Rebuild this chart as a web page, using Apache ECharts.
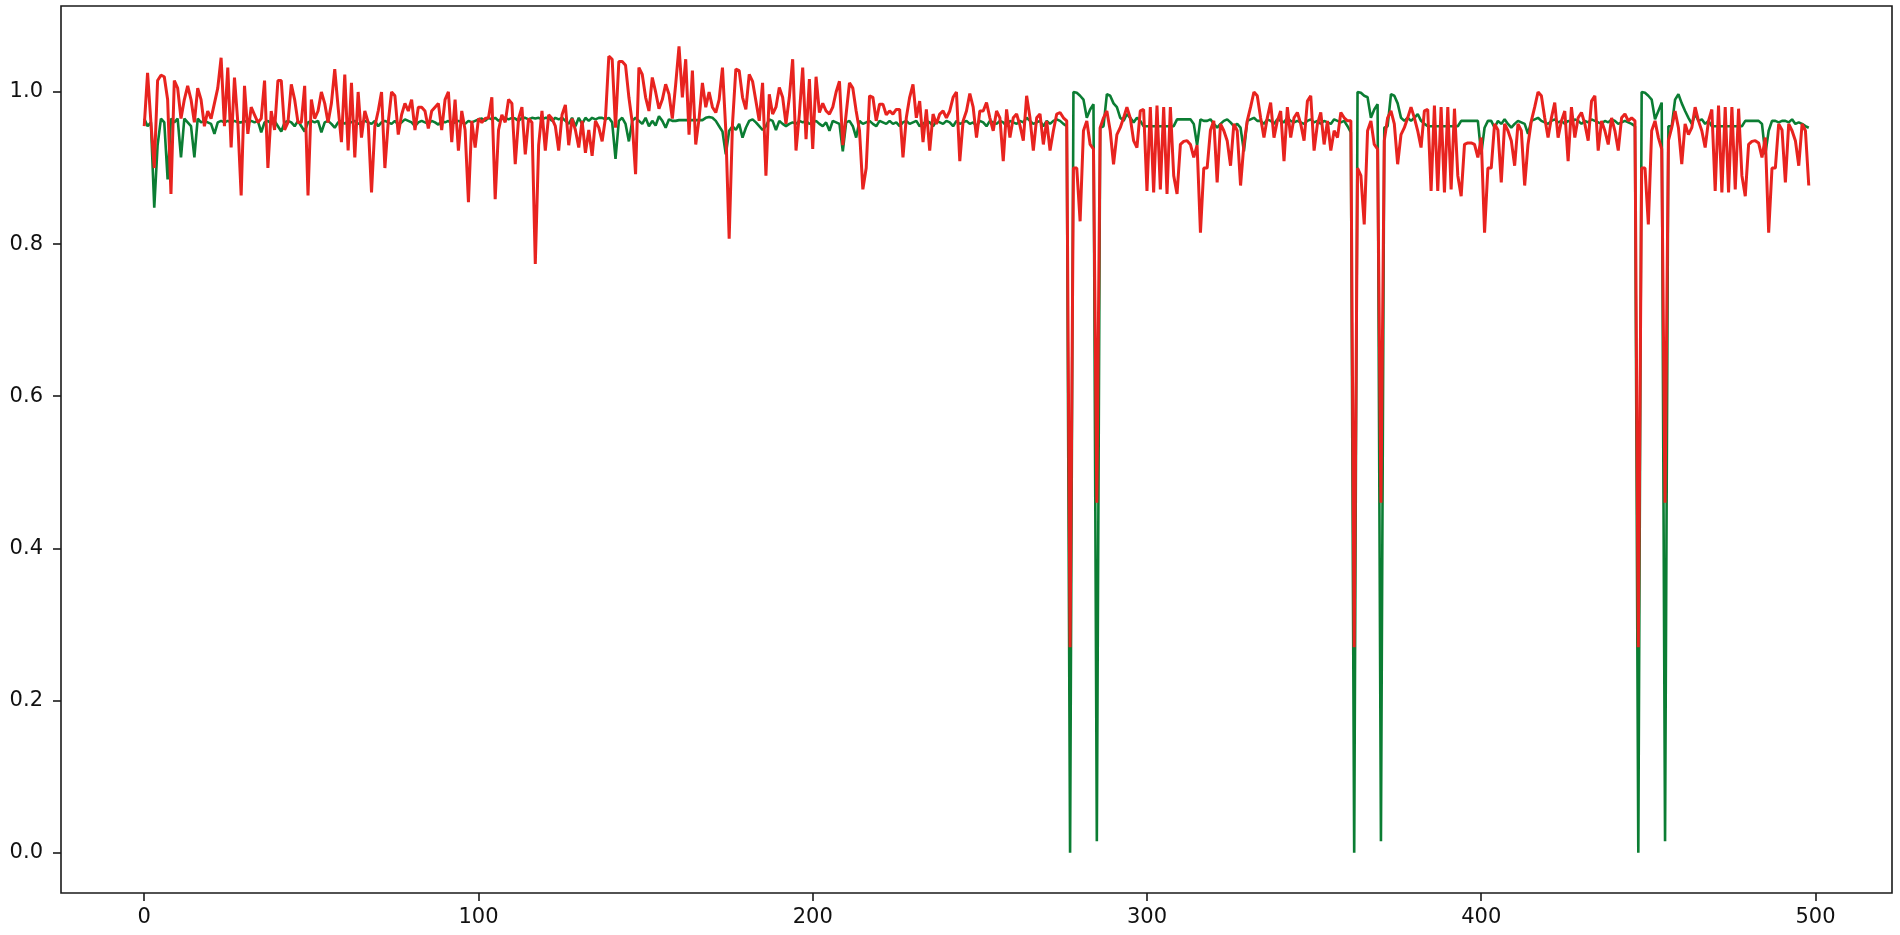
<!DOCTYPE html>
<html>
<head>
<meta charset="utf-8">
<script src="https://cdn.jsdelivr.net/npm/echarts@6/dist/echarts.min.js"></script>
<style>
html,body{margin:0;padding:0;background:#fff;}
#chart{width:1900px;height:935px;}
</style>
</head>
<body>
<div id="chart"></div>
<script>
// Tick labels
var xTicks = [0, 100, 200, 300, 400, 500];
var yTicks = [0.0, 0.2, 0.4, 0.6, 0.8, 1.0];

// Red series (index 0..498)
var redValues = [
0.955,1.025,0.96,0.90,1.015,1.022,1.02,0.99,0.866,1.015,
1.005,0.965,0.99,1.008,0.99,0.96,1.005,0.99,0.955,0.975,
0.965,0.985,1.005,1.045,0.955,1.032,0.927,1.019,0.96,0.864,
1.008,0.945,0.98,0.97,0.96,0.965,1.015,0.90,0.975,0.95,
1.015,1.015,0.95,0.96,1.01,0.99,0.96,0.96,1.008,0.864,
0.99,0.965,0.975,1.0,0.985,0.96,0.985,1.03,0.98,0.934,
1.023,0.923,1.012,0.914,1.0,0.94,0.975,0.96,0.868,0.955,
0.975,1.0,0.90,0.96,1.0,0.995,0.944,0.97,0.985,0.975,
0.99,0.95,0.98,0.98,0.975,0.952,0.975,0.98,0.985,0.95,
0.99,1.0,0.934,0.99,0.923,0.975,0.95,0.855,0.962,0.927,
0.965,0.96,0.965,0.966,0.993,0.859,0.95,0.97,0.96,0.99,
0.985,0.905,0.965,0.98,0.918,0.965,0.96,0.774,0.93,0.975,
0.923,0.97,0.965,0.955,0.923,0.97,0.983,0.93,0.965,0.95,
0.927,0.962,0.92,0.95,0.916,0.962,0.953,0.935,0.966,1.047,
1.043,0.953,1.04,1.04,1.035,0.993,0.96,0.892,1.032,1.023,
0.993,0.975,1.019,1.0,0.978,0.99,1.01,0.997,0.965,1.01,
1.06,0.993,1.043,0.944,1.028,0.931,0.965,1.012,0.98,1.0,
0.98,0.973,0.99,1.032,0.949,0.807,0.958,1.03,1.028,0.993,
0.977,1.023,1.014,0.988,0.962,1.012,0.89,0.997,0.971,0.98,
1.006,0.993,0.958,0.993,1.043,0.923,0.971,1.032,0.938,1.017,
0.925,1.02,0.973,0.985,0.975,0.971,0.98,1.0,1.014,0.93,
0.971,1.012,1.005,0.975,0.949,0.872,0.90,0.995,0.993,0.962,
0.984,0.984,0.97,0.975,0.971,0.977,0.977,0.914,0.966,0.993,
1.01,0.966,0.988,0.934,0.977,0.923,0.971,0.958,0.971,0.975,
0.966,0.975,0.993,1.0,0.909,0.962,0.975,0.998,0.98,0.94,
0.975,0.975,0.986,0.966,0.949,0.975,0.966,0.909,0.977,0.94,
0.966,0.971,0.956,0.936,0.995,0.966,0.923,0.966,0.971,0.931,
0.962,0.923,0.949,0.971,0.973,0.966,0.962,0.27,0.90,0.90,
0.83,0.949,0.962,0.931,0.925,0.46,0.953,0.966,0.975,0.949,
0.905,0.944,0.953,0.966,0.98,0.966,0.936,0.927,0.975,0.977,
0.87,0.98,0.868,0.982,0.872,0.98,0.866,0.98,0.89,0.866,
0.931,0.935,0.936,0.931,0.914,0.93,0.815,0.90,0.90,0.95,
0.962,0.881,0.958,0.949,0.936,0.903,0.958,0.949,0.877,0.931,
0.962,0.98,1.0,0.995,0.966,0.94,0.966,0.986,0.94,0.962,
0.975,0.909,0.98,0.94,0.966,0.973,0.958,0.936,0.988,0.995,
0.923,0.958,0.973,0.931,0.962,0.923,0.949,0.94,0.973,0.966,
0.962,0.962,0.27,0.90,0.89,0.826,0.949,0.962,0.931,0.925,
0.46,0.936,0.966,0.975,0.958,0.905,0.944,0.953,0.966,0.98,
0.966,0.949,0.927,0.975,0.977,0.87,0.982,0.87,0.98,0.868,
0.98,0.872,0.978,0.89,0.863,0.931,0.933,0.933,0.931,0.914,
0.94,0.815,0.90,0.90,0.958,0.95,0.881,0.958,0.949,0.936,
0.903,0.958,0.949,0.877,0.931,0.962,0.98,1.0,0.995,0.966,
0.94,0.966,0.986,0.94,0.962,0.975,0.909,0.98,0.94,0.966,
0.973,0.958,0.936,0.988,0.995,0.923,0.962,0.949,0.931,0.966,
0.949,0.923,0.966,0.971,0.962,0.966,0.962,0.27,0.90,0.90,
0.826,0.949,0.962,0.94,0.925,0.46,0.936,0.953,0.975,0.953,
0.905,0.958,0.944,0.953,0.98,0.962,0.949,0.927,0.962,0.977,
0.87,0.982,0.868,0.98,0.868,0.98,0.872,0.978,0.89,0.863,
0.931,0.935,0.936,0.933,0.914,0.94,0.815,0.90,0.90,0.958,
0.95,0.881,0.958,0.949,0.936,0.903,0.958,0.949,0.877
];

// Green series (index 0..498)
var greenValues = [
0.965,0.955,0.96,0.848,0.93,0.965,0.96,0.885,0.965,0.96,
0.965,0.914,0.965,0.96,0.955,0.914,0.965,0.96,0.962,0.96,
0.958,0.945,0.96,0.962,0.96,0.962,0.96,0.962,0.96,0.96,
0.962,0.96,0.962,0.96,0.962,0.947,0.96,0.962,0.958,0.962,
0.955,0.948,0.96,0.962,0.96,0.955,0.962,0.955,0.948,0.96,
0.962,0.96,0.962,0.947,0.96,0.962,0.958,0.953,0.96,0.962,
0.958,0.962,0.96,0.962,0.958,0.96,0.962,0.96,0.958,0.962,
0.955,0.96,0.962,0.96,0.958,0.962,0.957,0.96,0.964,0.962,
0.96,0.955,0.96,0.962,0.96,0.958,0.962,0.96,0.957,0.962,
0.96,0.962,0.958,0.96,0.962,0.96,0.958,0.962,0.96,0.962,
0.964,0.965,0.962,0.966,0.964,0.966,0.962,0.965,0.966,0.964,
0.966,0.965,0.962,0.966,0.966,0.964,0.966,0.965,0.966,0.964,
0.966,0.966,0.962,0.966,0.964,0.966,0.962,0.958,0.966,0.955,
0.966,0.958,0.966,0.962,0.966,0.964,0.966,0.966,0.964,0.966,
0.96,0.912,0.962,0.966,0.958,0.935,0.962,0.966,0.962,0.958,
0.966,0.955,0.962,0.956,0.968,0.962,0.953,0.964,0.962,0.962,
0.963,0.963,0.963,0.963,0.963,0.963,0.963,0.963,0.966,0.967,
0.966,0.962,0.955,0.948,0.918,0.949,0.955,0.95,0.958,0.94,
0.953,0.962,0.964,0.96,0.955,0.95,0.955,0.964,0.962,0.95,
0.962,0.958,0.955,0.958,0.96,0.958,0.962,0.96,0.962,0.958,
0.96,0.962,0.958,0.955,0.96,0.949,0.962,0.96,0.958,0.922,
0.96,0.962,0.955,0.94,0.962,0.958,0.96,0.962,0.958,0.955,
0.962,0.96,0.958,0.962,0.958,0.96,0.955,0.96,0.962,0.958,
0.96,0.962,0.955,0.958,0.962,0.96,0.955,0.962,0.96,0.958,
0.962,0.96,0.955,0.962,0.958,0.96,0.962,0.958,0.96,0.955,
0.962,0.96,0.955,0.962,0.96,0.958,0.962,0.96,0.955,0.962,
0.96,0.958,0.962,0.96,0.966,0.962,0.958,0.96,0.962,0.955,
0.962,0.958,0.962,0.964,0.962,0.958,0.955,0.0,1.0,0.999,
0.995,0.99,0.966,0.977,0.984,0.015,0.953,0.955,0.997,0.995,
0.985,0.98,0.966,0.962,0.971,0.966,0.96,0.966,0.962,0.955,
0.955,0.955,0.955,0.955,0.955,0.955,0.955,0.955,0.955,0.964,
0.964,0.964,0.964,0.964,0.958,0.93,0.964,0.962,0.962,0.964,
0.958,0.953,0.958,0.962,0.964,0.96,0.955,0.958,0.953,0.922,
0.962,0.964,0.966,0.962,0.962,0.958,0.964,0.962,0.958,0.964,
0.962,0.96,0.966,0.962,0.96,0.962,0.96,0.958,0.962,0.964,
0.96,0.962,0.958,0.962,0.96,0.958,0.964,0.962,0.96,0.962,
0.955,0.947,0.0,1.0,0.999,0.995,0.993,0.966,0.977,0.984,
0.015,0.953,0.955,0.997,0.995,0.985,0.966,0.962,0.966,0.962,
0.966,0.971,0.962,0.958,0.955,0.955,0.955,0.955,0.955,0.955,
0.955,0.955,0.955,0.955,0.962,0.962,0.962,0.962,0.962,0.962,
0.918,0.953,0.962,0.962,0.953,0.962,0.958,0.964,0.958,0.953,
0.958,0.962,0.96,0.958,0.945,0.962,0.964,0.966,0.962,0.96,
0.958,0.962,0.964,0.96,0.962,0.958,0.962,0.96,0.964,0.962,
0.958,0.962,0.96,0.964,0.962,0.96,0.958,0.962,0.96,0.964,
0.962,0.958,0.96,0.962,0.96,0.958,0.955,0.0,1.0,0.999,
0.995,0.99,0.964,0.975,0.986,0.015,0.955,0.955,0.99,0.997,
0.985,0.975,0.966,0.958,0.971,0.962,0.964,0.958,0.962,0.955,
0.955,0.955,0.955,0.955,0.955,0.955,0.955,0.955,0.955,0.962,
0.962,0.962,0.962,0.962,0.958,0.918,0.949,0.962,0.962,0.96,
0.962,0.962,0.96,0.964,0.958,0.96,0.958,0.955,0.953
];

function toPairs(arr){ var out=[]; for(var i=0;i<arr.length;i++){ out.push([i, arr[i]]); } return out; }

var chart = echarts.init(document.getElementById('chart'), null, {renderer:'canvas'});
var axisColor = '#1a1a1a';
var labelFont = {fontFamily:'DejaVu Sans', fontSize:21, color:'#111111'};
chart.setOption({
  animation:false,
  backgroundColor:'#ffffff',
  grid:{left:61, right:8, top:6, bottom:42, show:true, borderColor:axisColor, borderWidth:1.6, backgroundColor:'transparent'},
  xAxis:{
    type:'value', min:-24.9, max:522.9,
    axisLine:{show:false, onZero:false},
    splitLine:{show:false},
    axisTick:{show:true, inside:false, length:8, lineStyle:{color:axisColor, width:1.6}, customValues:xTicks},
    axisLabel:Object.assign({margin:14, customValues:xTicks, formatter:function(v){return String(Math.round(v));}}, labelFont)
  },
  yAxis:{
    type:'value', min:-0.053, max:1.113,
    axisLine:{show:false, onZero:false},
    splitLine:{show:false},
    axisTick:{show:true, inside:false, length:8, lineStyle:{color:axisColor, width:1.6}, customValues:yTicks},
    axisLabel:Object.assign({margin:18, customValues:yTicks, formatter:function(v){return v.toFixed(1);}}, labelFont)
  },
  series:[
    {type:'line', name:'green', data:toPairs(greenValues), showSymbol:false, symbol:'none',
     lineStyle:{color:'#0b7d33', width:2.6}, itemStyle:{color:'#0b7d33'}, z:2},
    {type:'line', name:'red', data:toPairs(redValues), showSymbol:false, symbol:'none',
     lineStyle:{color:'#e8231f', width:3}, itemStyle:{color:'#e8231f'}, z:3}
  ]
});
</script>
</body>
</html>
